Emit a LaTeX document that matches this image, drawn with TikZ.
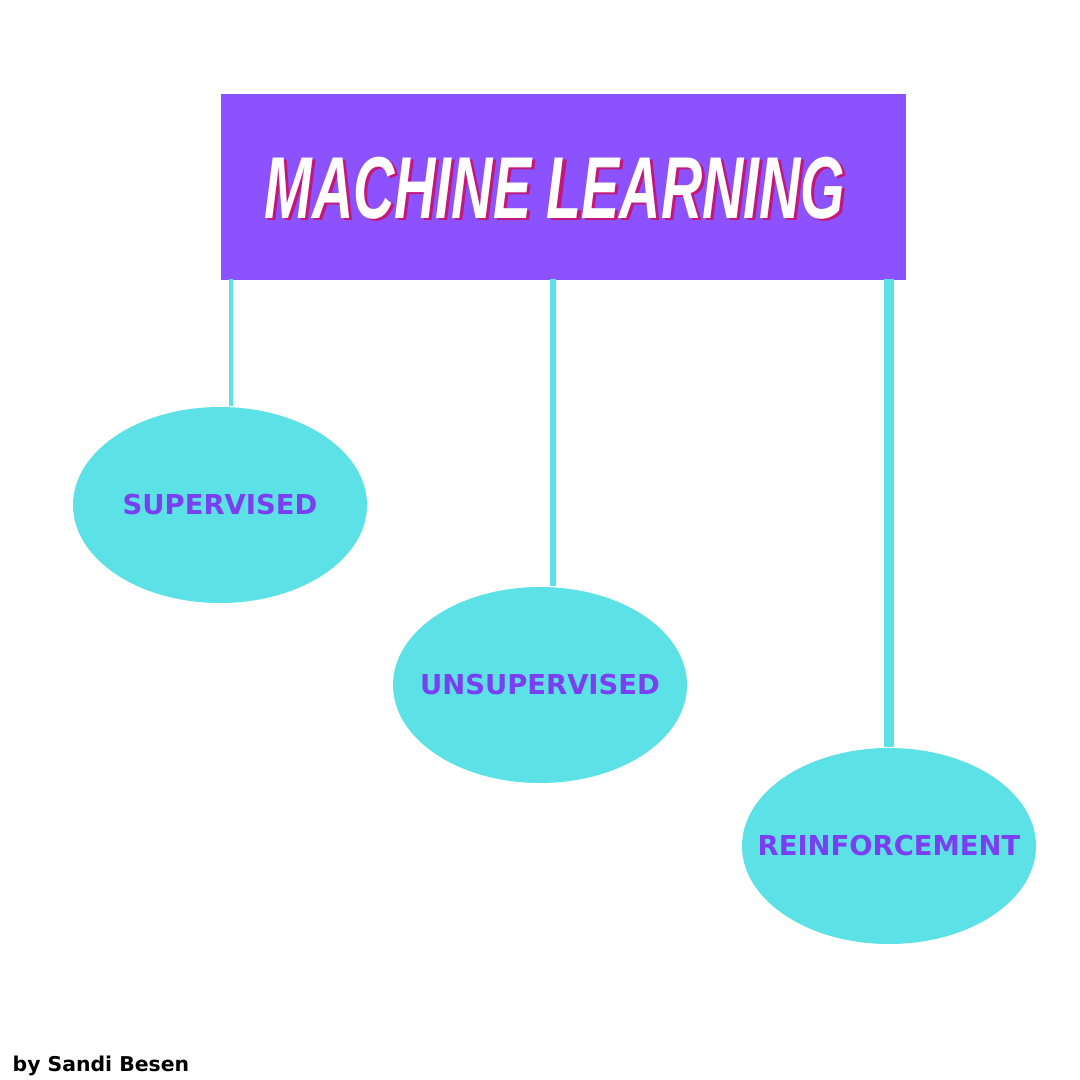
\documentclass[tikz,border=0pt]{standalone}
\usepackage{graphicx}
\usepackage{fontspec}
\setmainfont{DejaVu Sans}
\newfontfamily\titlefont{Liberation Sans}
\definecolor{mlpurple}{HTML}{8C52FF}
\definecolor{mlcyan}{HTML}{5CE1E6}
\definecolor{mltext}{HTML}{7B3FF2}
\definecolor{mlshadow}{HTML}{C2187A}
\usetikzlibrary{shapes.geometric}
\tikzset{
  leaf/.style={ellipse, fill=mlcyan, minimum width=2.94cm, minimum height=1.96cm, inner sep=0pt,
    font=\fontsize{7.8}{10}\selectfont\bfseries, text=mltext},
  link/.style={draw=mlcyan}
}
\newcommand{\zw}[1]{\makebox[0pt]{#1}}
\begin{document}
\begin{tikzpicture}[x=1cm,y=-1cm]
\useasboundingbox[fill=white] (0,0) rectangle (10.8,10.8);
\node[fill=mlpurple, minimum width=6.85cm, minimum height=1.86cm, inner sep=0pt, anchor=north west] (title) at (2.20,0.93) {};
\node[text=mlshadow, font=\titlefont\fontsize{25}{30}\selectfont\bfseries\itshape] (tsh) at (5.58,1.90) {\scalebox{0.65}[1]{MACHINE LEARNING}};
\node[text=white, font=\titlefont\fontsize{25}{30}\selectfont\bfseries\itshape] (tt) at (5.55,1.88) {\scalebox{0.65}[1]{MACHINE LEARNING}};
\node[leaf] (sup) at (2.20,5.05) {\zw{SUPERVISED}};
\node[leaf] (uns) at (5.40,6.85) {\zw{UNSUPERVISED}};
\node[leaf] (rei) at (8.89,8.46) {\zw{REINFORCEMENT}};
\coordinate (a1) at (2.31,2.79);
\coordinate (a2) at (5.53,2.79);
\coordinate (a3) at (8.89,2.79);
\draw[link, line width=0.9pt] (a1) -- (a1 |- sup.north);
\draw[link, line width=1.7pt] (a2) -- (a2 |- uns.north);
\draw[link, line width=2.6pt] (a3) -- (rei.north);
\node[anchor=west, inner sep=0pt, font=\fontsize{5.8}{7}\selectfont\bfseries] (by) at (0.12,10.66) {by Sandi Besen};
\end{tikzpicture}
\end{document}
